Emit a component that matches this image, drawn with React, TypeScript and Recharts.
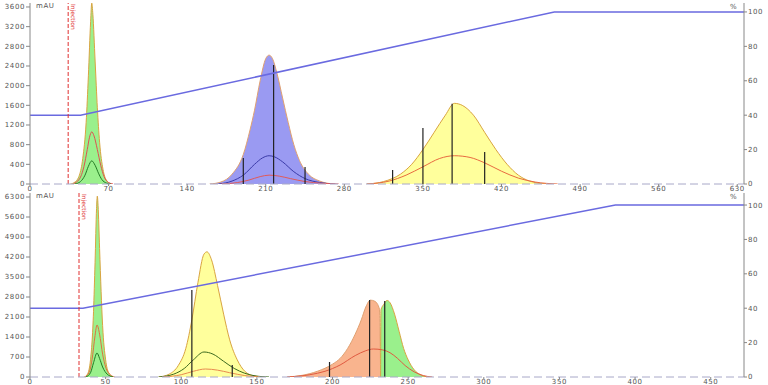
import React from "react";
import {
  ComposedChart,
  Area,
  Line,
  XAxis,
  YAxis,
  ReferenceLine,
} from "recharts";

// ---- axis ticks ----
const topTicksX = [0, 70, 140, 210, 280, 350, 420, 490, 560, 630];
const topTicksY = [0, 400, 800, 1200, 1600, 2000, 2400, 2800, 3200, 3600];
const botTicksX = [0, 50, 100, 150, 200, 250, 300, 350, 400, 450];
const botTicksY = [0, 700, 1400, 2100, 2800, 3500, 4200, 4900, 5600, 6300];
const pctTicks = [0, 20, 40, 60, 80, 100];

// ---- top run: [time, mAU] ----
const topPeak1 = [
  [36, 0], [40, 40], [44, 180], [47, 520], [50, 1250], [52, 2200], [54, 3300], [55, 3680],
  [56, 3450], [58, 2500], [60, 1550], [62, 850], [65, 300], [68, 80], [72, 0],
];
const topPeak1Red = [
  [38, 0], [44, 100], [48, 350], [51, 700], [53, 950], [55, 1060], [57, 980],
  [60, 700], [63, 380], [66, 150], [70, 30], [74, 0],
];
const topPeak1Green = [
  [40, 0], [45, 50], [49, 180], [52, 360], [55, 470], [58, 380], [61, 220], [64, 90], [68, 20], [72, 0],
];
const topPeak2 = [
  [160, 0], [170, 40], [180, 200], [190, 600], [196, 1100], [200, 1500], [205, 2100],
  [210, 2550], [213, 2620], [216, 2550], [220, 2250], [225, 1750], [230, 1250],
  [235, 800], [240, 480], [248, 200], [258, 60], [270, 0],
];
const topPeak2Blue = [
  [168, 0], [180, 60], [190, 180], [200, 400], [207, 530], [213, 575], [218, 550],
  [225, 450], [235, 250], [245, 110], [258, 30], [272, 0],
];
const topPeak2Red = [
  [170, 0], [185, 30], [195, 80], [205, 150], [213, 180], [222, 160], [232, 110],
  [245, 50], [260, 15], [275, 0],
];
const topPeak3 = [
  [300, 0], [315, 50], [330, 200], [340, 400], [350, 700], [360, 1050], [370, 1400],
  [378, 1640], [385, 1600], [395, 1400], [405, 1050], [415, 700], [425, 400],
  [435, 180], [445, 60], [460, 0],
];
const topPeak3Red = [
  [300, 0], [320, 60], [335, 180], [350, 350], [365, 520], [378, 575], [392, 540],
  [405, 430], [420, 260], [435, 120], [450, 40], [470, 0],
];
const topMarks = [
  [190, 530], [217, 2420], [245, 345], [323, 285], [350, 1140], [376, 1630], [405, 650],
];
const topGradient = [[0, 40], [45, 40], [467, 100], [636, 100]];
const topInject = 34;

// ---- bottom run ----
const botPeak1 = [
  [36, 0], [38, 100], [40, 600], [42, 2300], [43, 4000], [44, 5900], [44.5, 6330],
  [45, 6000], [46, 4500], [47, 3000], [48, 1800], [50, 600], [52, 150], [55, 0],
];
const botPeak1Red = [
  [36, 0], [39, 150], [41, 600], [43, 1450], [44.3, 1820], [46, 1500], [48, 800],
  [50, 350], [53, 80], [56, 0],
];
const botPeak1Green = [
  [37, 0], [40, 150], [42, 500], [44.3, 840], [46, 650], [48, 350], [51, 100], [55, 0],
];
const botPeak2 = [
  [85, 0], [92, 100], [98, 400], [103, 1000], [107, 2000], [111, 3300], [115, 4300],
  [117, 4380], [120, 4100], [124, 3200], [128, 2200], [132, 1300], [137, 600],
  [142, 200], [148, 40], [155, 0],
];
const botPeak2Green = [
  [85, 0], [95, 100], [102, 300], [108, 600], [115, 875], [121, 800], [128, 550],
  [135, 300], [142, 130], [150, 30], [158, 0],
];
const botPeak2Red = [
  [88, 0], [100, 80], [108, 200], [116, 280], [124, 240], [132, 150], [142, 50], [152, 0],
];
const botPeak3 = [
  [170, 0], [180, 60], [190, 200], [200, 450], [205, 650], [210, 1000], [215, 1500],
  [219, 2000], [222, 2450], [225, 2690], [228, 2650], [231, 2380], [231.8, 0],
];
const botPeak4 = [
  [231.8, 0], [232, 2350], [234, 2550], [236, 2680], [238, 2600], [241, 2200],
  [244, 1600], [247, 1000], [250, 600], [254, 250], [258, 80], [263, 0],
];
const botPeak34Red = [
  [170, 0], [185, 80], [195, 200], [205, 420], [215, 750], [222, 920], [227, 980],
  [233, 950], [238, 850], [243, 650], [248, 400], [254, 180], [260, 50], [266, 0],
];
const botMarks = [[107, 3045], [133.7, 420], [198, 525], [224.5, 2695], [234.5, 2660]];
const botGradient = [[0, 40], [35, 40], [387, 100], [472, 100]];
const botInject = 32.4;

const rows = (pts: number[][]) => pts.map(([t, v]) => ({ t, v }));

const tickFont = { fontSize: 7, fill: "#555", fontFamily: "DejaVu Sans", letterSpacing: 0.6 };

const InjectLabel = (props: any) => {
  const { viewBox } = props;
  const x = viewBox.x + 3;
  const y = viewBox.y + 1;
  return (
    <text x={x} y={y} transform={`rotate(90 ${x} ${y})`} fontSize={6} fill="#e03030" fontFamily="DejaVu Sans">
      Injection
    </text>
  );
};

type PanelProps = {
  top: number;
  height: number;
  plotBottomPad: number;
  xMax: number;
  yMax: number;
  pctMax: number;
  xTicks: number[];
  yTicks: number[];
  fills: { pts: number[][]; fill: string; stroke: string }[];
  lines: { pts: number[][]; color: string }[];
  marks: number[][];
  gradient: number[][];
  inject: number;
};

const Panel = (p: PanelProps) => (
  <div style={{ position: "absolute", left: 0, top: p.top }}>
    <ComposedChart width={768} height={p.height} margin={{ top: 3, right: 0, bottom: 0, left: 0 }}>
      <XAxis
        dataKey="t"
        type="number"
        domain={[0, p.xMax]}
        ticks={p.xTicks}
        allowDataOverflow
        height={p.plotBottomPad}
        tickSize={2}
        tickMargin={0}
        tick={tickFont}
        axisLine={{ stroke: "#a8a8c8", strokeDasharray: "8 4" }}
        tickLine={{ stroke: "#888" }}
        interval={0}
      />
      <YAxis
        yAxisId="mau"
        domain={[0, p.yMax]}
        ticks={p.yTicks}
        allowDataOverflow
        width={30}
        tickSize={4}
        tickMargin={1}
        tick={tickFont}
        axisLine={{ stroke: "#888" }}
        tickLine={{ stroke: "#888" }}
        interval={0}
      />
      <YAxis
        yAxisId="pct"
        orientation="right"
        domain={[0, p.pctMax]}
        ticks={pctTicks}
        allowDataOverflow
        width={24}
        tickSize={3}
        tickMargin={1}
        tick={tickFont}
        axisLine={{ stroke: "#888" }}
        tickLine={{ stroke: "#888" }}
        interval={0}
      />
      {p.fills.map((f, i) => (
        <Area
          key={`f${i}`}
          yAxisId="mau"
          data={rows(f.pts)}
          dataKey="v"
          type="monotone"
          fill={f.fill}
          fillOpacity={1}
          stroke={f.stroke}
          strokeWidth={1}
          isAnimationActive={false}
          dot={false}
          activeDot={false}
        />
      ))}
      {p.lines.map((l, i) => (
        <Line
          key={`l${i}`}
          yAxisId="mau"
          data={rows(l.pts)}
          dataKey="v"
          type="monotone"
          stroke={l.color}
          strokeWidth={1}
          dot={false}
          activeDot={false}
          isAnimationActive={false}
        />
      ))}
      {p.marks.map(([t, v], i) => (
        <ReferenceLine
          key={`m${i}`}
          yAxisId="mau"
          segment={[{ x: t, y: 0 }, { x: t, y: v }]}
          stroke="#222"
          strokeWidth={1.2}
        />
      ))}
      <Line
        yAxisId="pct"
        data={rows(p.gradient)}
        dataKey="v"
        type="linear"
        stroke="#6a6ae0"
        strokeWidth={1.5}
        dot={false}
        activeDot={false}
        isAnimationActive={false}
      />
      <ReferenceLine
        yAxisId="mau"
        x={p.inject}
        stroke="#e03030"
        strokeDasharray="4 2"
        strokeWidth={1}
        label={<InjectLabel />}
      />
    </ComposedChart>
    <div style={{ position: "absolute", left: 36, top: 2, fontSize: 7, color: "#555", fontFamily: "DejaVu Sans", letterSpacing: 0.6 }}>
      mAU
    </div>
    <div style={{ position: "absolute", left: 730, top: 3, fontSize: 7, color: "#555", fontFamily: "DejaVu Sans" }}>
      %
    </div>
  </div>
);

const GREEN = "#9af08c";
const TAN = "#d9a441";

const App = () => (
  <div style={{ position: "absolute", left: 0, top: 0, width: 768, height: 385, background: "#fff" }}>
    <Panel
      top={0}
      height={194}
      plotBottomPad={10}
      xMax={636}
      yMax={3681}
      pctMax={105.2}
      xTicks={topTicksX}
      yTicks={topTicksY}
      fills={[
        { pts: topPeak1, fill: GREEN, stroke: TAN },
        { pts: topPeak2, fill: "#9a9af2", stroke: "#e0a070" },
        { pts: topPeak3, fill: "#ffff9c", stroke: TAN },
      ]}
      lines={[
        { pts: topPeak1Red, color: "#e05050" },
        { pts: topPeak1Green, color: "#237a23" },
        { pts: topPeak2Blue, color: "#3a3aa8" },
        { pts: topPeak2Red, color: "#e05a5a" },
        { pts: topPeak3Red, color: "#e86a40" },
      ]}
      marks={topMarks}
      gradient={topGradient}
      inject={topInject}
    />
    <Panel
      top={190}
      height={195}
      plotBottomPad={8}
      xMax={472}
      yMax={6440}
      pctMax={107}
      xTicks={botTicksX}
      yTicks={botTicksY}
      fills={[
        { pts: botPeak1, fill: GREEN, stroke: TAN },
        { pts: botPeak2, fill: "#ffff9c", stroke: TAN },
        { pts: botPeak3, fill: "#f9b48e", stroke: "#e0a070" },
        { pts: botPeak4, fill: GREEN, stroke: TAN },
      ]}
      lines={[
        { pts: botPeak1Red, color: "#e07040" },
        { pts: botPeak1Green, color: "#237a23" },
        { pts: botPeak2Green, color: "#3d6a1e" },
        { pts: botPeak2Red, color: "#e88a50" },
        { pts: botPeak34Red, color: "#e05a40" },
      ]}
      marks={botMarks}
      gradient={botGradient}
      inject={botInject}
    />
  </div>
);

export default App;
